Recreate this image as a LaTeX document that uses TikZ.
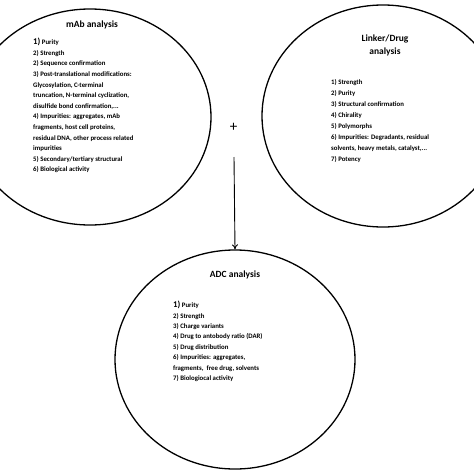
\documentclass[tikz,border=0pt]{standalone}
\usepackage{fontspec}
\setmainfont{Carlito}
\usetikzlibrary{shapes.geometric,arrows.meta}
\tikzset{
  oval/.style={draw=black, line width=1.3pt, ellipse, inner sep=0pt},
  titletext/.style={font=\bfseries\fontsize{9.5}{13}\selectfont, align=center, inner sep=0pt},
  listtext/.style={align=left, inner sep=0pt, anchor=north west},
  conn/.style={line width=0.9pt, -{To[length=5pt,width=6pt]}}
}
\newcommand{\bigone}{{\fontsize{8.8}{8.8}\selectfont 1)}}
\begin{document}
\begin{tikzpicture}[x=1pt,y=-1pt]
\useasboundingbox (0,0) rectangle (474,474);
\clip (0,0) rectangle (474,474);
% ellipses
\node[oval, minimum width=242pt, minimum height=216pt] (mab) at (90,117) {};
\node[oval, minimum width=242pt, minimum height=222pt] (drug) at (383,116) {};
\node[oval, minimum width=240pt, minimum height=219pt] (adc) at (235,359.5) {};
% titles
\node[titletext] (mabt) at (92,25) {mAb analysis};
\node[titletext] (drugt) at (385,45) {Linker/Drug\\analysis};
\node[titletext] (adct) at (235,275) {ADC analysis};
% lists
\node[listtext, font=\bfseries\fontsize{6.8}{10.6}\selectfont] (mabl) at (33,38) {%
\bigone{} Purity\\
2) Strength\\
2) Sequence confirmation\\
3) Post-translational modifications:\\
Glycosylation, C-terminal\\
truncation, N-terminal cyclization,\\
disulfide bond confirmation,...\\
4) Impurities: aggregates, mAb\\
fragments, host cell proteins,\\
residual DNA, other process related\\
impurities\\
5) Secondary/tertiary structural\\
6) Biological activity};
\node[listtext, font=\bfseries\fontsize{6.8}{11}\selectfont] (drugl) at (331,79) {%
1) Strength\\
2) Purity\\
3) Structural confirmation\\
4) Chirality\\
5) Polymorphs\\
6) Impurities: Degradants, residual\\
solvents, heavy metals, catalyst,...\\
7) Potency};
\node[listtext, font=\bfseries\fontsize{6.8}{10.4}\selectfont] (adcl) at (173,301) {%
\bigone{} Purity\\
2) Strength\\
3) Charge variants\\
4) Drug to antobody ratio (DAR)\\
5) Drug distribution\\
6) Impurities: aggregates,\\
fragments,\ \ free drug, solvents\\
7) Biologiocal activity};
% plus and arrow
\node[inner sep=0pt, font=\fontsize{15}{15}\selectfont] (plus) at (233.5,127) {+};
\coordinate (start) at (234,157);
\draw[conn] (start) -- (adc.north);
\end{tikzpicture}
\end{document}
